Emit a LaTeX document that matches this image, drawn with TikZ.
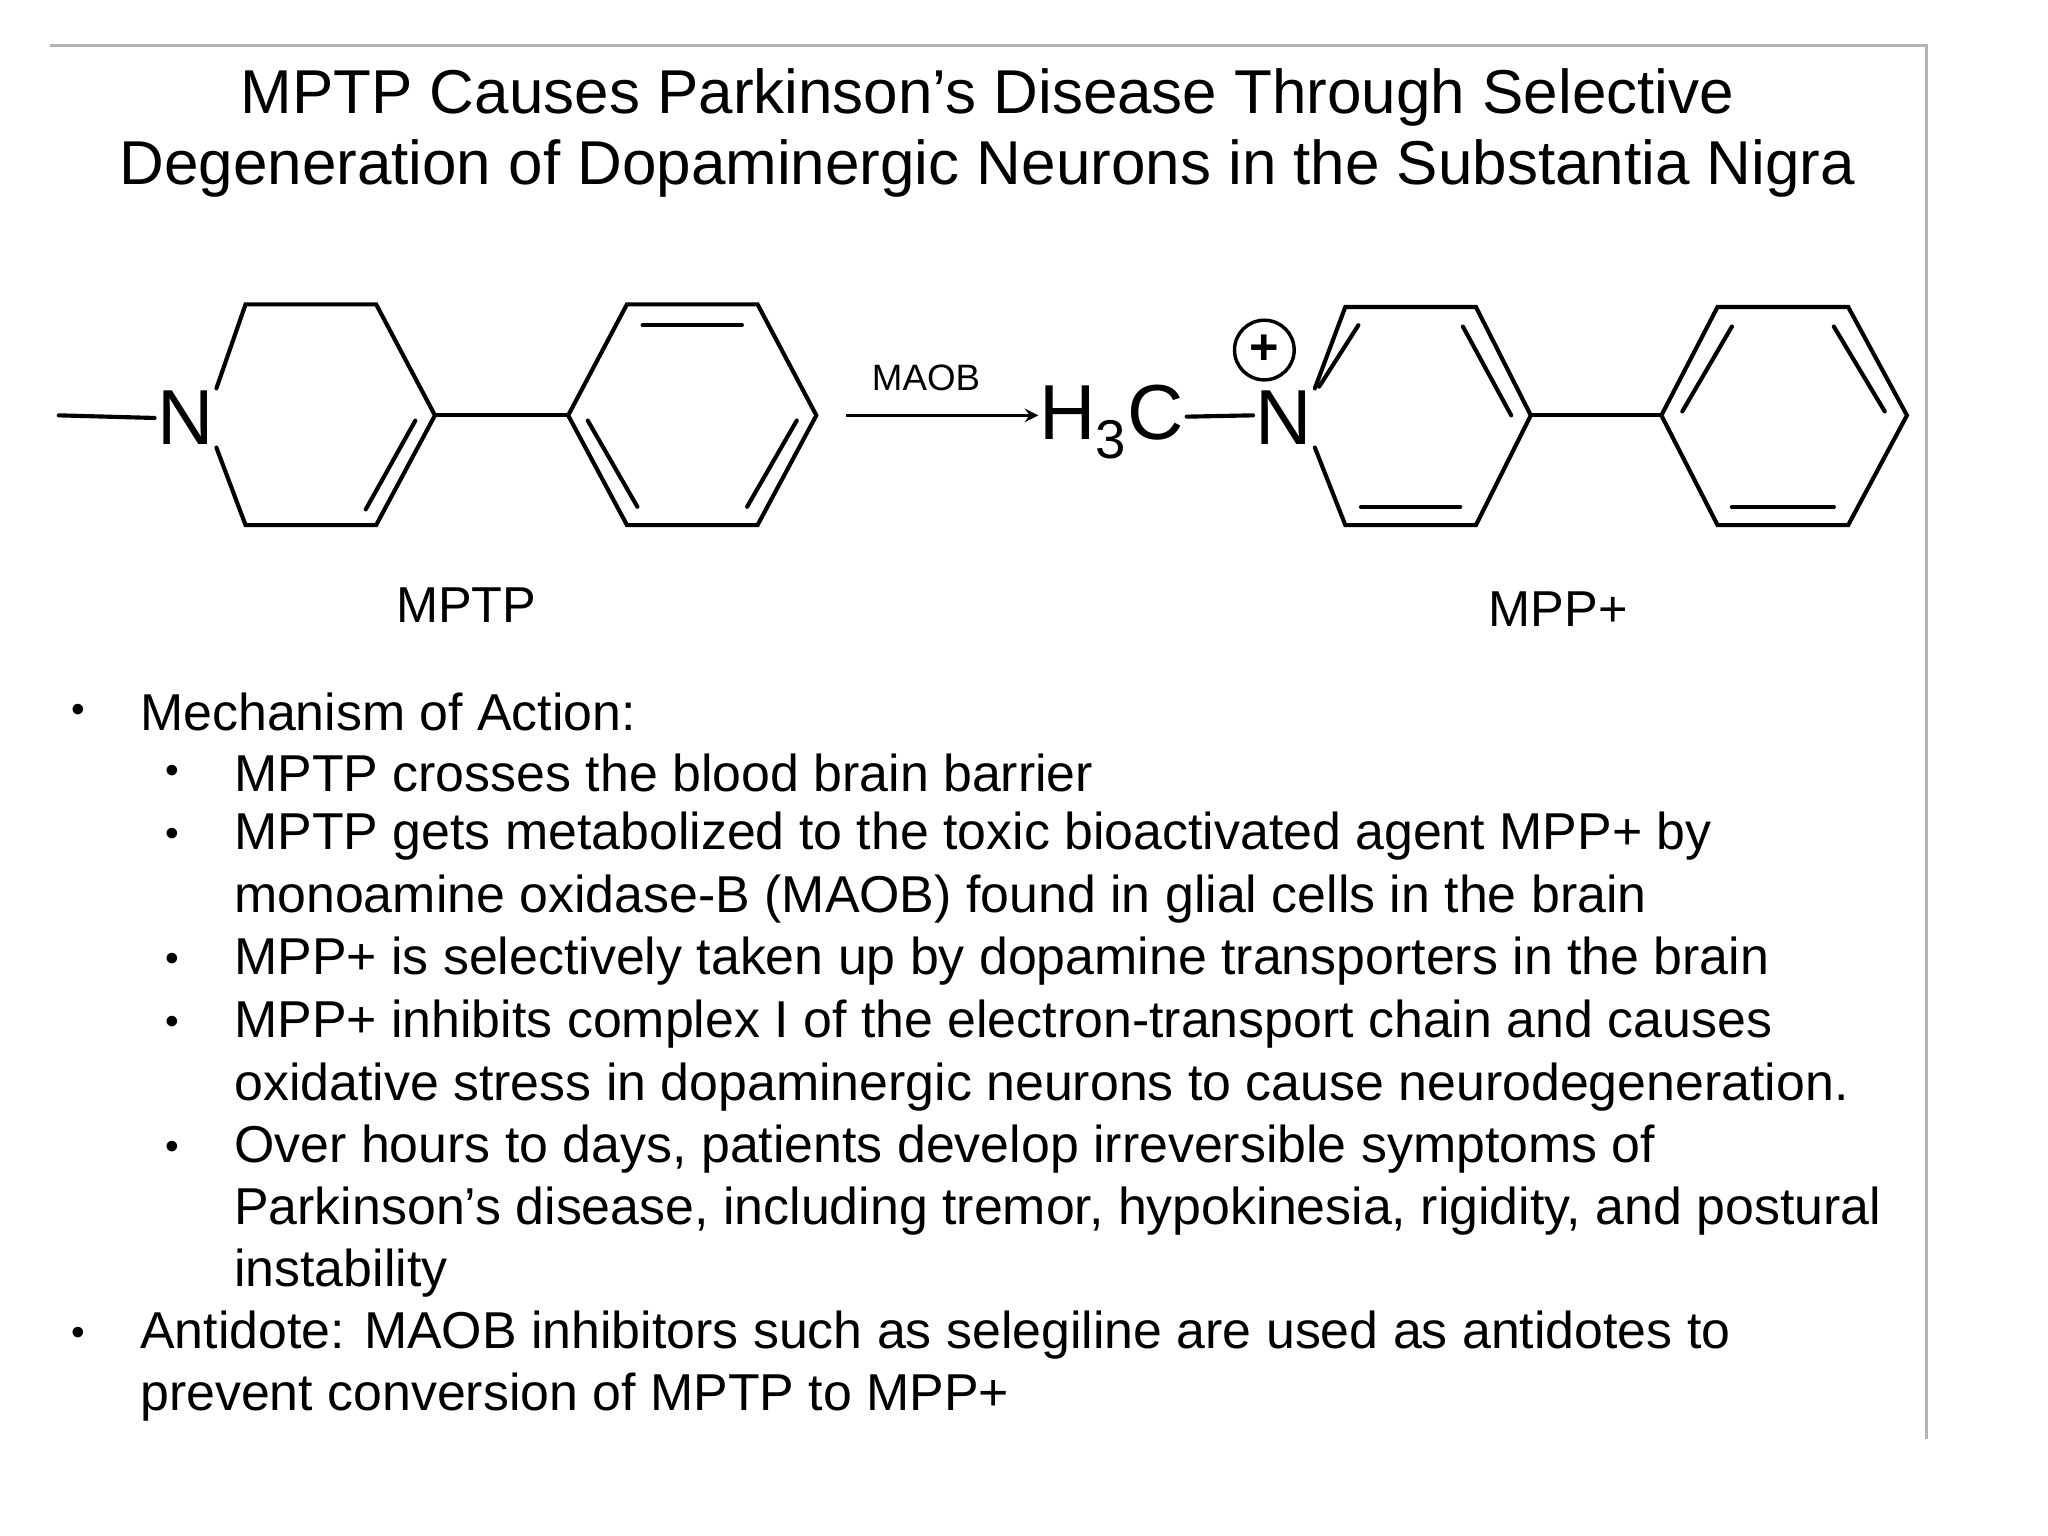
\documentclass[tikz,border=0pt]{standalone}
\usepackage{fontspec}
\usetikzlibrary{calc}
\setmainfont{Liberation Sans}
\begin{document}
\begin{tikzpicture}[x=0.02cm,y=-0.02cm,
  bond/.style={line width=1.8pt,line cap=round},
  txt/.style={anchor=west,inner sep=0,font=\fontsize{22.6}{26}\selectfont},
  bul/.style={inner sep=0,font=\fontsize{17}{20}\selectfont}]
\useasboundingbox (0,0) rectangle (1568,1176);
\fill[white] (0,0) rectangle (1568,1176);
\draw[gray!60,line width=1.2pt] (38,35) -- (1475,35) -- (1475,1102);
\node[align=center,font=\fontsize{27}{31}\selectfont] (title) at (756,102) {MPTP Causes Parkinson’s Disease Through Selective\\Degeneration of Dopaminergic Neurons in the Substantia Nigra};
% MPTP
\node[inner sep=1pt,font=\fontsize{34}{34}\selectfont] (N1) at (142,320) {N};
\coordinate (me) at (45,318);
\draw[bond] (me) -- (N1.west);
\draw[bond] (N1.north east) -- (188,233) -- (288,233) -- (333,318) -- (288,402) -- (188,402) -- (N1.south east);
\draw[bond] (318,322) -- (280,390);
\draw[bond] (333,318) -- (435,318);
\draw[bond] (435,318) -- (480,233) -- (580,233) -- (625,318) -- (580,402) -- (480,402) -- cycle;
\draw[bond] (492,249) -- (568,249);
\draw[bond] (450,322) -- (488,388);
\draw[bond] (610,322) -- (572,388);
\node[font=\fontsize{22}{26}\selectfont] (l1) at (357,463) {MPTP};
% arrow
\coordinate (a1) at (648,318); \coordinate (a2) at (795,318);
\draw[line width=1.6pt,-stealth] (a1) -- (a2);
\node[font=\fontsize{16}{19}\selectfont] (maob) at (709,289) {MAOB};
% MPP+
\node[inner sep=0pt,font=\fontsize{34}{34}\selectfont] (h3c) at (851,323) {H\textsubscript{3}C};
\node[inner sep=1pt,font=\fontsize{34}{34}\selectfont] (N2) at (983,320) {N};
\draw[bond] ($(h3c.east)+(2,-4)$) -- ($(N2.west)+(0,-2)$);
\node[draw,circle,line width=1.5pt,inner sep=0pt,minimum size=26,font=\fontsize{22}{22}\selectfont\bfseries] (plus) at (968,268) {+};
\draw[bond] (N2.north east) -- (1030,235) -- (1130,235) -- (1172,318) -- (1130,402) -- (1030,402) -- (N2.south east);
\draw[bond] (1010,296) -- (1040,249);
\draw[bond] (1120,250) -- (1157,318);
\draw[bond] (1042,388) -- (1118,388);
\draw[bond] (1172,318) -- (1272,318);
\draw[bond] (1272,318) -- (1315,235) -- (1415,235) -- (1460,318) -- (1415,402) -- (1315,402) -- cycle;
\draw[bond] (1288,315) -- (1326,250);
\draw[bond] (1404,250) -- (1443,315);
\draw[bond] (1326,388) -- (1404,388);
\node[font=\fontsize{22}{26}\selectfont] (l2) at (1193,466) {MPP+};
% bullets
\node[bul] (b1) at (60,546) {•};
\node[txt] (t1) at (107,545) {Mechanism of Action:};
\node[bul] (b2) at (132,593) {•};
\node[txt] (t2) at (179,592) {MPTP crosses the blood brain barrier};
\node[bul] (b3) at (132,641) {•};
\node[txt] (t3) at (179,640) {MPTP gets metabolized to the toxic bioactivated agent MPP+ by};
\node[txt] (t3b) at (179,688) {monoamine oxidase-B (MAOB) found in glial cells in the brain};
\node[bul] (b4) at (132,737) {•};
\node[txt] (t4) at (179,736) {MPP+ is selectively taken up by dopamine transporters in the brain};
\node[bul] (b5) at (132,785) {•};
\node[txt] (t5) at (179,784) {MPP+ inhibits complex I of the electron-transport chain and causes};
\node[txt] (t5b) at (179,832) {oxidative stress in dopaminergic neurons to cause neurodegeneration.};
\node[bul] (b6) at (132,881) {•};
\node[txt] (t6) at (179,880) {Over hours to days, patients develop irreversible symptoms of};
\node[txt] (t6b) at (179,927) {Parkinson’s disease, including tremor, hypokinesia, rigidity, and postural};
\node[txt] (t6c) at (179,975) {instability};
\node[bul] (b7) at (60,1023) {•};
\node[txt] (t7) at (107,1022) {Antidote: MAOB inhibitors such as selegiline are used as antidotes to};
\node[txt] (t7b) at (107,1070) {prevent conversion of MPTP to MPP+};
\end{tikzpicture}
\end{document}
